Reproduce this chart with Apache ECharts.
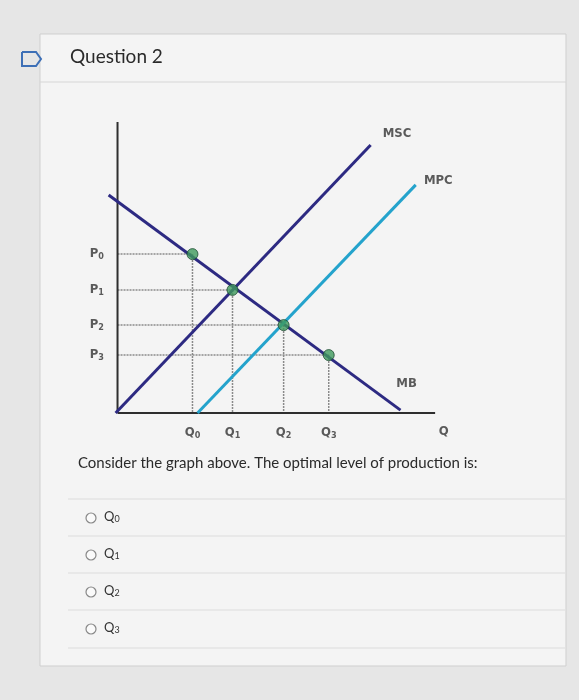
<!DOCTYPE html>
<html>
<head>
<meta charset="utf-8">
<script src="https://cdn.jsdelivr.net/npm/echarts@6/dist/echarts.min.js"></script>
<style>
  html, body { margin: 0; padding: 0; background: #e6e6e6; }
  #chart { width: 579px; height: 700px; }
</style>
</head>
<body>
<div id="chart"></div>
<script>
// curves, as [Q, P] end points
var mbLine = [[-2.8, 74.9], [89.1, 1.0]];
var mscLine = [[-0.6, 0], [79.7, 92.1]];
var mpcLine = [[25.2, 0], [93.9, 78.4]];
// equilibrium points
var eqPoints = [[23.6, 54.6], [36.2, 42.3], [52.3, 30.2], [66.5, 19.9]];
var pLabels = ['P|0', 'P|1', 'P|2', 'P|3'];
var qLabels = ['Q|0', 'Q|1', 'Q|2', 'Q|3'];
var curveNames = [['MSC', 88, 96], ['MPC', 101, 80], ['MB', 91, 10]];
var answerLabels = ['Q|0', 'Q|1', 'Q|2', 'Q|3'];

var chart = echarts.init(document.getElementById('chart'));
var font = '"Liberation Sans Narrow", "DejaVu Sans Condensed", sans-serif';
var subRich = {
    m: { fontFamily: font, fontWeight: 'bold', fontSize: 13, color: '#333' },
    s: { fontFamily: font, fontWeight: 'bold', fontSize: 9, color: '#333', padding: [6, 0, 0, 0] }
};
function sub(s) {
    var p = s.split('|');
    return '{m|' + p[0] + '}{s|' + p[1] + '}';
}

var guides = [];
eqPoints.forEach(function (pt) {
    guides.push({ type: 'line', data: [[0, pt[1]], pt], symbol: 'none', silent: true,
        lineStyle: { color: '#8a8a8a', width: 1.5, type: [2, 1] }, z: 1 });
    guides.push({ type: 'line', data: [pt, [pt[0], 0]], symbol: 'none', silent: true,
        lineStyle: { color: '#8a8a8a', width: 1.5, type: [2, 1] }, z: 1 });
});

var graphics = [
    { type: 'rect', shape: { x: 40, y: 34, width: 526, height: 632 },
      style: { fill: '#f4f4f4', stroke: '#cfcfcf', lineWidth: 1 }, z: -10 },
    { type: 'polyline', shape: { points: [[22, 52], [36, 52], [41, 59], [36, 66], [22, 66], [22, 52]] },
      style: { fill: 'none', stroke: '#3d6fb6', lineWidth: 2 } },
    { type: 'text', x: 70, y: 47, style: { text: 'Question 2', font: '19px Lato, "Open Sans", sans-serif', fill: '#2a2a2a' } },
    { type: 'line', shape: { x1: 40, y1: 82, x2: 566, y2: 82 }, style: { stroke: '#d6d6d6', lineWidth: 1 } },
    { type: 'text', x: 78, y: 456, style: { text: 'Consider the graph above. The optimal level of production is:',
        font: '15px Lato, "Open Sans", sans-serif', fill: '#2a2a2a' } }
];
answerLabels.forEach(function (a, i) {
    var y = 518 + i * 37;
    graphics.push({ type: 'line', shape: { x1: 68, y1: y - 19, x2: 565, y2: y - 19 }, style: { stroke: '#dcdcdc', lineWidth: 1 } });
    graphics.push({ type: 'circle', shape: { cx: 91, cy: y, r: 5 }, style: { fill: '#fafafa', stroke: '#888', lineWidth: 1.2 } });
    var p = a.split('|');
    graphics.push({ type: 'text', x: 104, y: y - 8, style: { text: '{m|' + p[0] + '}{s|' + p[1] + '}',
        rich: { m: { fontFamily: 'Lato, sans-serif', fontSize: 13, fill: '#333' },
                s: { fontFamily: 'Lato, sans-serif', fontSize: 9, fill: '#333', padding: [5, 0, 0, 0] } } } });
});
graphics.push({ type: 'line', shape: { x1: 68, y1: 648, x2: 565, y2: 648 }, style: { stroke: '#dcdcdc', lineWidth: 1 } });

var series = [
    { type: 'line', data: [[0, 0], [0, 100]], symbol: 'none', lineStyle: { color: '#2e2e2e', width: 2 }, z: 2 },
    { type: 'line', data: [[0, 0], [100, 0]], symbol: 'none', lineStyle: { color: '#2e2e2e', width: 2 }, z: 2 }
].concat(guides).concat([
    { type: 'line', data: mbLine, symbol: 'none', lineStyle: { color: '#2d2a82', width: 3 }, z: 3 },
    { type: 'line', data: mscLine, symbol: 'none', lineStyle: { color: '#2d2a82', width: 3 }, z: 3 },
    { type: 'line', data: mpcLine, symbol: 'none', lineStyle: { color: '#24a3cc', width: 3 }, z: 3 },
    { type: 'scatter', data: eqPoints, symbolSize: 11, z: 5,
      itemStyle: { color: '#3f9a5c', borderColor: '#1f4d33', borderWidth: 1 } },
    { type: 'scatter', symbolSize: 0, silent: true,
      data: eqPoints.map(function (pt) { return [-3, pt[1]]; }),
      label: { show: true, position: 'left', distance: 4,
        formatter: function (p) { return sub(pLabels[p.dataIndex]); }, rich: subRich } },
    { type: 'scatter', symbolSize: 0, silent: true,
      data: [[-5, 100]],
      label: { show: true, position: 'left', distance: 0, formatter: '{m|P}', rich: subRich } },
    { type: 'scatter', symbolSize: 0, silent: true,
      data: eqPoints.map(function (pt) { return [pt[0], 0]; }).concat([[102.7, 0]]),
      label: { show: true, position: 'bottom', distance: 12,
        formatter: function (p) { return p.dataIndex < 4 ? sub(qLabels[p.dataIndex]) : '{m|Q}'; }, rich: subRich } },
    { type: 'scatter', symbolSize: 0, silent: true,
      data: curveNames.map(function (c) { return [c[1], c[2]]; }),
      label: { show: true, position: 'inside',
        formatter: function (p) { return '{m|' + curveNames[p.dataIndex][0] + '}'; }, rich: subRich } }
]);

chart.setOption({
    animation: false,
    backgroundColor: '#e6e6e6',
    grid: { left: 108, top: 122, width: 343, height: 291 },
    xAxis: { type: 'value', min: -3, max: 105, show: false },
    yAxis: { type: 'value', min: 0, max: 100, show: false },
    graphic: graphics,
    series: series
});
</script>
</body>
</html>
